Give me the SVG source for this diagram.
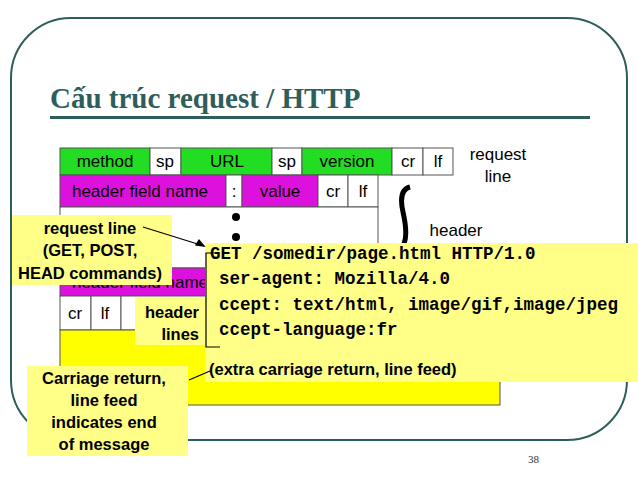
<svg xmlns="http://www.w3.org/2000/svg" width="638" height="478" viewBox="0 0 638 478">
<style>
.c{stroke:#555;stroke-width:1}
.g{fill:#22dd22}.m{fill:#dd11dd}.w{fill:#fff}
.t{font-family:"Liberation Sans",Arial,sans-serif;font-size:17px;fill:#000;text-anchor:middle}
.n{font-family:"Liberation Sans",Arial,sans-serif;font-size:16.5px;font-weight:bold;fill:#000;text-anchor:middle}
.mono{font-family:"Liberation Mono",monospace;font-size:17.5px;font-weight:bold;fill:#000}
.call{fill:#ffff88}
</style>
<rect x="11" y="18" width="616" height="422" rx="60" fill="#fff" stroke="#2e5e5a" stroke-width="2"/>
<text x="50" y="108" font-family="Liberation Serif,serif" font-size="29" font-weight="bold" fill="#2e5e5a">Cấu trúc request / HTTP</text>
<rect x="50" y="116" width="540" height="3" fill="#2e5e5a"/>
<g id="format">
<rect x="60" y="148" width="90" height="27" class="g c"/><text x="105" y="167" class="t">method</text>
<rect x="150" y="148" width="31" height="27" class="w c"/><text x="165" y="167" class="t">sp</text>
<rect x="181" y="148" width="91" height="27" class="g c"/><text x="227" y="167" class="t">URL</text>
<rect x="272" y="148" width="30" height="27" class="w c"/><text x="287" y="167" class="t">sp</text>
<rect x="302" y="148" width="90" height="27" class="g c"/><text x="347" y="167" class="t">version</text>
<rect x="392" y="148" width="31" height="27" class="w c"/><text x="408" y="167" class="t">cr</text>
<rect x="423" y="148" width="30" height="27" class="w c"/><text x="438" y="167" class="t">lf</text>
<text x="498" y="160" class="t">request</text><text x="498" y="182" class="t">line</text>
<rect x="60" y="175" width="166" height="32" class="m c"/><text x="140" y="197" class="t">header field name</text>
<rect x="226" y="175" width="16" height="32" class="w c"/><text x="234" y="197" class="t">:</text>
<rect x="242" y="175" width="76" height="32" class="m c"/><text x="280" y="197" class="t">value</text>
<rect x="318" y="175" width="30" height="32" class="w c"/><text x="333" y="197" class="t">cr</text>
<rect x="348" y="175" width="30" height="32" class="w c"/><text x="363" y="197" class="t">lf</text>
<rect x="60" y="207" width="318" height="61" class="w c"/>
<circle cx="236" cy="217" r="4" fill="#000"/><circle cx="236" cy="237" r="4" fill="#000"/>
<path d="M410 187 Q398 190 403 212 Q408 234 404 244 Q412 250 420 262" fill="none" stroke="#000" stroke-width="5"/>
<text x="456" y="236" class="t">header</text>
<rect x="60" y="268" width="150" height="28" class="m c"/><text x="140" y="288" class="t">header field name</text>
<rect x="60" y="296" width="31" height="34" class="w c"/><text x="75" y="319" class="t">cr</text>
<rect x="91" y="296" width="30" height="34" class="w c"/><text x="105" y="319" class="t">lf</text>
<rect x="121" y="296" width="90" height="34" class="w c"/>
<rect x="60" y="330" width="440" height="75" fill="#ffff00" stroke="#555"/>
</g>
<g id="example">
<rect x="205" y="243" width="433" height="139" class="call"/>
<text x="210" y="259" class="mono">GET /somedir/page.html HTTP/1.0</text>
<text x="219" y="284" class="mono">ser-agent: Mozilla/4.0</text>
<text x="219" y="310" class="mono">ccept: text/html, image/gif,image/jpeg</text>
<text x="219" y="335" class="mono">ccept-language:fr</text>
<text x="209" y="375" font-family="Liberation Sans,Arial,sans-serif" font-size="16.5" font-weight="bold">(extra carriage return, line feed)</text>
<path d="M218 253 H206 V347 H220" fill="none" stroke="#000" stroke-width="1.2"/>
</g>
<g id="callout-request">
<rect x="12" y="215" width="160" height="70" class="call"/>
<text x="90" y="234" class="n">request line</text>
<text x="90" y="256" class="n">(GET, POST,</text>
<text x="90" y="279" class="n">HEAD commands)</text>
</g>
<g id="callout-header">
<rect x="135" y="297" width="70" height="48" class="call"/>
<text x="199" y="318" class="n" style="text-anchor:end">header</text>
<text x="199" y="340" class="n" style="text-anchor:end">lines</text>
</g>
<g id="callout-crlf">
<rect x="27" y="366" width="161" height="90" class="call"/>
<text x="104" y="384" class="n">Carriage return,</text>
<text x="104" y="406" class="n">line feed</text>
<text x="104" y="428" class="n">indicates end</text>
<text x="104" y="450" class="n">of message</text>
</g>
<g id="connectors" stroke="#000" stroke-width="1.3" fill="none">
<path d="M143 227 L204 246"/>
<path d="M204 246 l-8 -1 l3 -5 z" fill="#000"/>
<path d="M189 380 L210 371"/>
</g>
<text x="528" y="463" font-family="Liberation Serif,serif" font-size="11" fill="#333">38</text>
</svg>
